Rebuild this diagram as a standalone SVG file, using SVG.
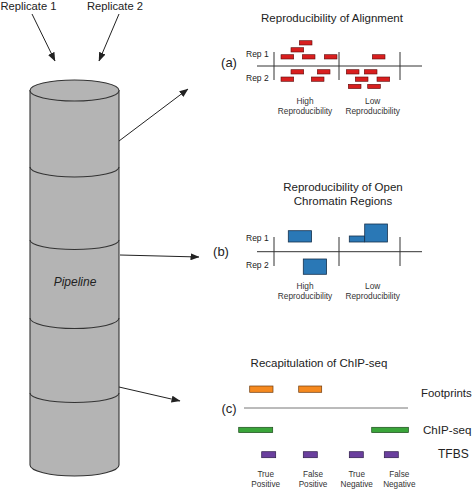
<svg xmlns="http://www.w3.org/2000/svg" width="474" height="489" viewBox="0 0 474 489">
<defs>
<marker id="ah" markerUnits="userSpaceOnUse" markerWidth="9" markerHeight="7" refX="8.5" refY="3.5" orient="auto">
<path d="M0,0 L9,3.5 L0,7 Z" fill="#222"/>
</marker>
<style>
text{font-family:"Liberation Sans",Arial,sans-serif;fill:#222}
.cyl{fill:#b4b4b4;stroke:#333;stroke-width:1.1}
.seg{fill:none;stroke:#333;stroke-width:1.1}
.conn{stroke:#222;stroke-width:1;fill:none;marker-end:url(#ah)}
.axis{stroke:#333;stroke-width:1;fill:none}
.axisg{stroke:#777;stroke-width:1;fill:none}
.red{fill:#d81e1e;stroke:#5a0a0a;stroke-width:0.6}
.blue{fill:#2a78b6;stroke:#16314d;stroke-width:0.8}
.org{fill:#f5891f;stroke:#6e3a0c;stroke-width:0.7}
.grn{fill:#3aa53a;stroke:#1c4a1c;stroke-width:0.7}
.pur{fill:#6a3f9e;stroke:#2c1a48;stroke-width:0.7}
.t{font-size:11.5px;text-anchor:middle}
.rep{font-size:8.5px}
.sm{font-size:8.3px;text-anchor:middle;fill:#333}
.lab{font-size:13px;text-anchor:middle}
.leg{font-size:12px}
.tf{font-size:8.2px;text-anchor:middle;fill:#333}
</style>
</defs>

<g id="inputs">
<text x="0.5" y="10" style="font-size:11.2px">Replicate 1</text>
<text x="87" y="10" style="font-size:11.2px">Replicate 2</text>
</g>

<g id="pipeline">
<path class="cyl" d="M30,90.5 L30,465 A44.5,11 0 0 0 119,465 L119,90.5 Z"/>
<ellipse class="cyl" cx="74.5" cy="90.5" rx="44.5" ry="10.5"/>
<path class="seg" d="M30,167 A44.5,10 0 0 0 119,167"/>
<path class="seg" d="M30,240 A44.5,9.5 0 0 0 119,240"/>
<path class="seg" d="M30,318 A44.5,10.5 0 0 0 119,318"/>
<path class="seg" d="M30,393 A44.5,9.5 0 0 0 119,393"/>
<text x="75" y="286" style="font-size:12px;font-style:italic;text-anchor:middle">Pipeline</text>
</g>

<g id="connectors">
<line class="conn" x1="32" y1="14" x2="55" y2="61"/>
<line class="conn" x1="119" y1="14" x2="99" y2="61"/>
<line class="conn" x1="119" y1="141" x2="188" y2="89"/>
<line class="conn" x1="120" y1="255" x2="199" y2="257"/>
<line class="conn" x1="119" y1="387" x2="180" y2="401"/>
</g>

<g id="panel-a">
<text class="t" x="332" y="22">Reproducibility of Alignment</text>
<text class="lab" x="229" y="67">(a)</text>
<text class="rep" x="246" y="57">Rep 1</text>
<text class="rep" x="246" y="81">Rep 2</text>
<line class="axis" x1="257" y1="66" x2="422" y2="66"/>
<line class="axis" x1="274" y1="52" x2="274" y2="80"/>
<line class="axis" x1="339" y1="52" x2="339" y2="80"/>
<line class="axis" x1="400" y1="52" x2="400" y2="80"/>
<rect class="red" x="299.3" y="40.7" width="12.7" height="4.3"/>
<rect class="red" x="291" y="47.7" width="12.7" height="4.3"/>
<rect class="red" x="281" y="54.7" width="12.7" height="4.3"/>
<rect class="red" x="302.3" y="54.7" width="12.7" height="4.3"/>
<rect class="red" x="324.3" y="54.7" width="12.7" height="4.3"/>
<rect class="red" x="372.3" y="54.7" width="12.7" height="4.3"/>
<rect class="red" x="291" y="69.7" width="12.7" height="4.3"/>
<rect class="red" x="317.3" y="69.7" width="12.7" height="4.3"/>
<rect class="red" x="281" y="77" width="12.7" height="4.3"/>
<rect class="red" x="311.3" y="77" width="12.7" height="4.3"/>
<rect class="red" x="346.3" y="69.7" width="12.7" height="4.3"/>
<rect class="red" x="364.3" y="69.7" width="12.7" height="4.3"/>
<rect class="red" x="355.3" y="77" width="12.7" height="4.3"/>
<rect class="red" x="377" y="77" width="12.7" height="4.3"/>
<rect class="red" x="348.3" y="84.3" width="12.7" height="4.3"/>
<rect class="red" x="367.7" y="84.3" width="12.7" height="4.3"/>
<text class="sm" x="305" y="104">High</text>
<text class="sm" x="305" y="113.5">Reproducibility</text>
<text class="sm" x="372.7" y="104">Low</text>
<text class="sm" x="372.7" y="113.5">Reproducibility</text>
</g>

<g id="panel-b">
<text class="t" x="343" y="191">Reproducibility of Open</text>
<text class="t" x="343" y="205">Chromatin Regions</text>
<text class="lab" x="221" y="256">(b)</text>
<text class="rep" x="246" y="241">Rep 1</text>
<text class="rep" x="246" y="268">Rep 2</text>
<line class="axis" x1="257" y1="251.7" x2="422" y2="251.7"/>
<line class="axis" x1="274" y1="237" x2="274" y2="266"/>
<line class="axis" x1="339" y1="237" x2="339" y2="266"/>
<line class="axis" x1="400" y1="237" x2="400" y2="266"/>
<rect class="blue" x="288.3" y="230.7" width="23.3" height="11.3"/>
<rect class="blue" x="303.3" y="259" width="23.3" height="15.3"/>
<rect class="blue" x="349.3" y="236" width="15.3" height="6"/>
<rect class="blue" x="364.7" y="224" width="22.7" height="18"/>
<text class="sm" x="305" y="289">High</text>
<text class="sm" x="305" y="298.5">Reproducibility</text>
<text class="sm" x="372.7" y="289">Low</text>
<text class="sm" x="372.7" y="298.5">Reproducibility</text>
</g>

<g id="panel-c">
<text class="t" x="319" y="367">Recapitulation of ChIP-seq</text>
<text class="lab" x="229" y="413">(c)</text>
<line class="axisg" x1="244" y1="408" x2="408" y2="408"/>
<rect class="org" x="249.7" y="386" width="23.3" height="6.3"/>
<rect class="org" x="298.7" y="386" width="23" height="6.3"/>
<rect class="grn" x="238.7" y="427.3" width="34" height="5.3"/>
<rect class="grn" x="371.7" y="427.3" width="36.7" height="5.3"/>
<rect class="pur" x="261.7" y="451.7" width="14" height="6"/>
<rect class="pur" x="303.3" y="451.7" width="14" height="6"/>
<rect class="pur" x="349.3" y="451.7" width="14" height="6"/>
<rect class="pur" x="384.3" y="451.7" width="14" height="6"/>
<text class="leg" x="421" y="397" style="font-size:11.4px">Footprints</text>
<text class="leg" x="423" y="434" style="font-size:11.6px">ChIP-seq</text>
<text class="leg" x="438" y="458">TFBS</text>
<text class="tf" x="265.7" y="477">True</text>
<text class="tf" x="265.7" y="487">Positive</text>
<text class="tf" x="313" y="477">False</text>
<text class="tf" x="313" y="487">Positive</text>
<text class="tf" x="356.7" y="477">True</text>
<text class="tf" x="356.7" y="487">Negative</text>
<text class="tf" x="399.3" y="477">False</text>
<text class="tf" x="399.3" y="487">Negative</text>
</g>
</svg>
